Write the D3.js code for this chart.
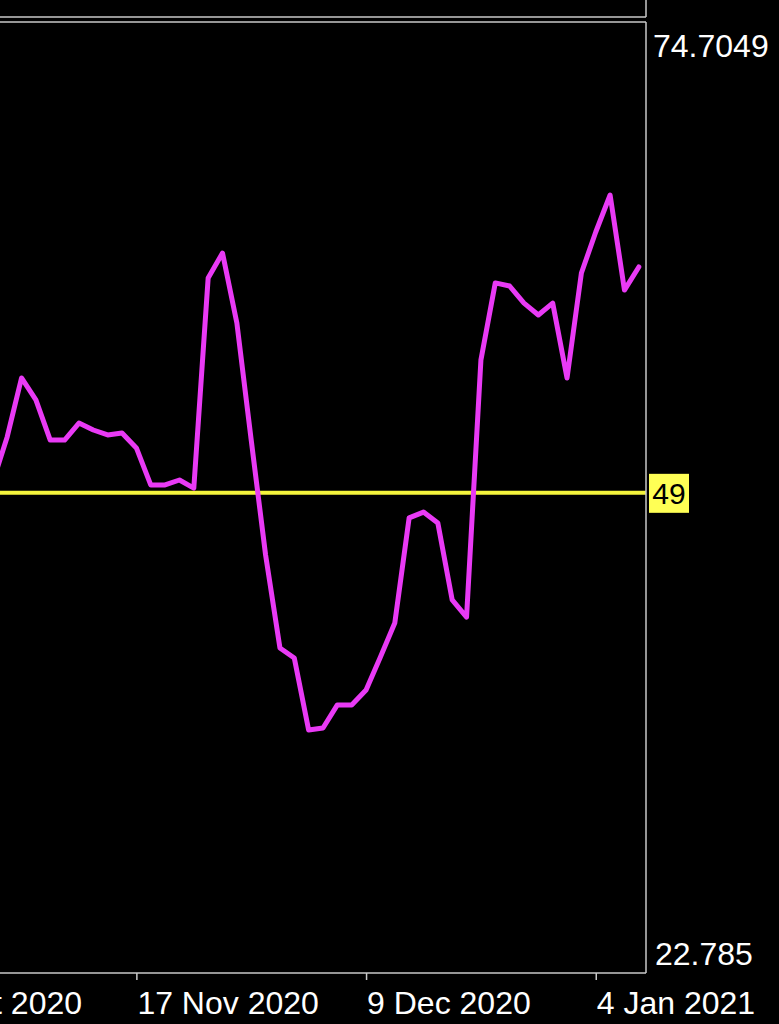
<!DOCTYPE html>
<html><head><meta charset="utf-8">
<script src="https://cdn.jsdelivr.net/npm/d3@7"></script>
<style>html,body{margin:0;padding:0;background:#000;overflow:hidden}svg{display:block}</style>
</head><body>
<svg id="c" width="779" height="1024"></svg>
<script>
// Data: trading-day index -> indicator value
const values = [49.59, 52.05, 55.27, 54.07, 51.88, 51.88, 52.81, 52.43, 52.16, 52.27,
  51.45, 49.43, 49.43, 49.70, 49.26, 60.73, 62.09, 58.27, 51.88, 45.61,
  40.53, 39.98, 36.05, 36.16, 37.42, 37.42, 38.24, 40.04, 41.89, 47.63,
  47.95, 47.35, 43.15, 42.22, 56.25, 60.46, 60.29, 59.36, 58.71, 59.36,
  55.27, 61.00, 63.24, 65.26, 60.07, 61.33];
const startIndex = -1;
const tickIndices = [-7, 9, 25, 41];
const tickLabels = ["26 Oct 2020", "17 Nov 2020", "9 Dec 2020", "4 Jan 2021"];
const yDomain = [22.785, 74.7049];
const yLabels = ["74.7049", "22.785"];
const refLevel = 49;
const refLabel = "49";

const svg = d3.select("#c");
const W = 779, H = 1024;
const plot = {left: 0, right: 646, top: 22, bottom: 973};
svg.append("rect").attr("width", W).attr("height", H).attr("fill", "#000");

const x = d3.scaleLinear().domain([-0.5, 44.5]).range([plot.left, plot.right]);
const y = d3.scaleLinear().domain(yDomain).range([plot.bottom, plot.top]);

const axisColor = "#c8c8c8";
const font = "'Liberation Sans', Arial, sans-serif";

// top panel border
svg.append("line").attr("x1", 0).attr("x2", plot.right).attr("y1", 17).attr("y2", 17)
  .attr("stroke", axisColor).attr("stroke-width", 1.5);
svg.append("line").attr("x1", plot.right).attr("x2", plot.right).attr("y1", 0).attr("y2", 17)
  .attr("stroke", axisColor).attr("stroke-width", 1.5);
svg.append("line").attr("x1", 0).attr("x2", plot.right).attr("y1", plot.top).attr("y2", plot.top)
  .attr("stroke", axisColor).attr("stroke-width", 1.5);

svg.append("clipPath").attr("id", "clip").append("rect")
  .attr("x", plot.left).attr("y", plot.top)
  .attr("width", plot.right - plot.left).attr("height", plot.bottom - plot.top);

// reference line
svg.append("line").attr("x1", plot.left).attr("x2", plot.right)
  .attr("y1", y(refLevel)).attr("y2", y(refLevel))
  .attr("stroke", "#f4f43c").attr("stroke-width", 4);

// series line
const line = d3.line().x((d, i) => x(startIndex + i)).y(d => y(d));
svg.append("path").datum(values).attr("clip-path", "url(#clip)")
  .attr("d", line).attr("fill", "none").attr("stroke", "#e93af5")
  .attr("stroke-width", 5).attr("stroke-linejoin", "round").attr("stroke-linecap", "round");

// right axis
svg.append("line").attr("x1", plot.right).attr("x2", plot.right).attr("y1", plot.top).attr("y2", plot.bottom)
  .attr("stroke", axisColor).attr("stroke-width", 1.5);
// bottom axis
const xAxis = d3.axisBottom(x).tickValues(tickIndices).tickSize(7).tickFormat("");
const gx = svg.append("g").attr("transform", `translate(0,${plot.bottom})`).call(xAxis);
gx.select(".domain").remove();
gx.selectAll(".tick line").attr("stroke", axisColor).attr("stroke-width", 1.5);
svg.append("line").attr("x1", 0).attr("x2", plot.right).attr("y1", plot.bottom).attr("y2", plot.bottom)
  .attr("stroke", axisColor).attr("stroke-width", 1.5);

svg.append("g").selectAll("text").data(tickIndices).join("text")
  .attr("x", d => x(d) + 1).attr("y", plot.bottom + 41)
  .attr("fill", "#fff").attr("font-family", font).attr("font-size", 32)
  .attr("text-anchor", "start")
  .text((d, i) => tickLabels[i]);

// y labels at domain ends
svg.append("text").attr("x", plot.right + 7).attr("y", y(yDomain[1]) + 35)
  .attr("fill", "#fff").attr("font-family", font).attr("font-size", 32).text(yLabels[0]);
svg.append("text").attr("x", plot.right + 9).attr("y", y(yDomain[0]) - 8)
  .attr("fill", "#fff").attr("font-family", font).attr("font-size", 32).text(yLabels[1]);

// reference label box
const ry = y(refLevel);
svg.append("rect").attr("x", plot.right + 3).attr("y", ry - 19).attr("width", 40).attr("height", 39)
  .attr("fill", "#ffff55");
svg.append("text").attr("x", plot.right + 23).attr("y", ry + 11)
  .attr("text-anchor", "middle").attr("fill", "#000").attr("font-family", font).attr("font-size", 30)
  .text(refLabel);
</script>
</body></html>
